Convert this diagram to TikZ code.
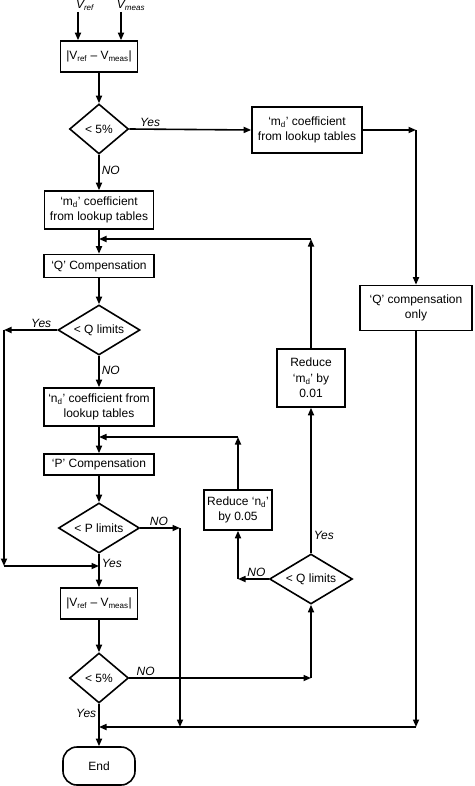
\documentclass[tikz,border=0pt]{standalone}
\usepackage{fontspec}
\setmainfont{Liberation Sans}
\usetikzlibrary{arrows.meta,shapes.geometric}

\begin{document}
\begin{tikzpicture}[
    x=1pt, y=-1pt,
    >={Triangle[length=7.5pt,width=6pt]},
    font=\fontsize{12}{15.5}\selectfont,
    box/.style={draw, line width=1.6pt, align=center, inner sep=0.5pt},
    dec/.style={draw, diamond, line width=1.6pt, aspect=1.6, inner sep=0pt},
    arr/.style={->, line width=1.6pt},
    lbl/.style={font=\fontsize{12}{14}\selectfont\itshape, inner sep=2pt}
]
    \useasboundingbox (0,0) rectangle (474,786);
    % inputs
    \node[lbl, anchor=base] (vref) at (85,9) {V\textsubscript{ref}};
    \node[lbl, anchor=base] (vmeas) at (131,9) {V\textsubscript{meas}};
    \coordinate (vr) at (78,12);
    \coordinate (vm) at (121,12);
    % main column
    \node[box, minimum width=77pt, minimum height=31pt] (b1) at (99,56.5) {|V\textsubscript{ref} – V\textsubscript{meas}|};
    \node[dec, minimum width=59pt, minimum height=50pt] (d1) at (99,129) {< 5\%};
    \node[box, minimum width=109pt, minimum height=38pt] (bm2) at (99,210) {`m\textsubscript{d}' coefficient\\from lookup tables};
    \node[box, minimum width=110pt, minimum height=23pt] (qc) at (99,266) {`Q' Compensation};
    \node[dec, minimum width=82pt, minimum height=50pt] (d2) at (99,330) {< Q limits};
    \node[box, minimum width=110pt, minimum height=38pt] (bn) at (99,407) {`n\textsubscript{d}' coefficient from\\lookup tables};
    \node[box, minimum width=110pt, minimum height=21pt] (pc) at (99,464.5) {`P' Compensation};
    \node[dec, minimum width=81pt, minimum height=50pt] (d3) at (99,528) {< P limits};
    \node[box, minimum width=77pt, minimum height=31pt] (b2) at (99,603.5) {|V\textsubscript{ref} – V\textsubscript{meas}|};
    \node[dec, minimum width=59pt, minimum height=50pt] (d5) at (99,678) {< 5\%};
    \node[draw, line width=1.6pt, rounded corners=14pt, minimum width=72pt, minimum height=38pt] (fin) at (99,766) {End};
    % right side
    \node[box, minimum width=110pt, minimum height=46pt] (bm1) at (307,130) {`m\textsubscript{d}' coefficient\\from lookup tables};
    \node[box, minimum width=112pt, minimum height=45pt] (qo) at (416,308) {`Q' compensation\\only};
    \node[box, minimum width=68pt, minimum height=58pt] (rm) at (311,378) {Reduce\\`m\textsubscript{d}' by\\0.01};
    \node[box, minimum width=68pt, minimum height=40pt] (rn) at (238,510) {Reduce `n\textsubscript{d}'\\by 0.05};
    \node[dec, minimum width=83pt, minimum height=50pt] (d4) at (311,579) {< Q limits};
    % junctions
    \coordinate (j1) at (99,239);
    \coordinate (j2) at (99,437);
    \coordinate (j3) at (99,566);
    \coordinate (j4) at (99,727);
    \coordinate (cl) at (4,0);
    \coordinate (cn) at (180,0);

    \draw[arr] (vr) -- (vr |- b1.north);
    \draw[arr] (vm) -- (vm |- b1.north);
    \draw[arr] (b1.south) -- (d1.north);
    \draw[arr] (d1.east) -- node[lbl, above, pos=0.17] {Yes} (bm1.west);
    \draw[arr] (bm1.east) -- (bm1.east -| qo.north);
    \draw[arr] (bm1.east -| qo.north) -- (qo.north);
    \draw[arr] (d1.south) -- node[lbl, right, pos=0.45] {NO} (bm2.north);
    \draw[arr] (bm2.south) -- (qc.north);
    \draw[arr] (rm.north) -- (rm.north |- j1);
    \draw[arr] (rm.north |- j1) -- (j1);
    \draw[arr] (qc.south) -- (d2.north);
    \draw[arr] (d2.west) -- node[lbl, above, pos=0.3] {Yes} (d2.west -| cl);
    \draw[arr] (d2.west -| cl) -- (cl |- j3);
    \draw[arr] (cl |- j3) -- (j3);
    \draw[arr] (d2.south) -- node[lbl, right, pos=0.45] {NO} (bn.north);
    \draw[arr] (bn.south) -- (pc.north);
    \draw[arr] (rn.north) -- (rn.north |- j2);
    \draw[arr] (rn.north |- j2) -- (j2);
    \draw[arr] (pc.south) -- (d3.north);
    \draw[arr] (d3.east) -- node[lbl, above, pos=0.47] {NO} (d3.east -| cn);
    \draw[arr] (d3.east -| cn) -- (cn |- j4);
    \draw[arr] (d3.south) -- node[lbl, right, pos=0.3] {Yes} (b2.north);
    \draw[arr] (b2.south) -- (d5.north);
    \draw[arr] (d5.east) -- node[lbl, above, pos=0.09] {NO} (d5.east -| d4.south);
    \draw[arr] (d5.east -| d4.south) -- (d4.south);
    \draw[arr] (d4.north) -- node[lbl, right, pos=0.12] {Yes} (rm.south);
    \draw[arr] (d4.west) -- node[lbl, above, pos=0.4] {NO} (d4.west -| rn.south);
    \draw[arr] (d4.west -| rn.south) -- (rn.south);
    \draw[arr] (qo.south) -- (qo.south |- j4);
    \draw[arr] (qo.south |- j4) -- (j4);
    \draw[arr] (d5.south) -- node[lbl, left, pos=0.23] {Yes} (fin.north);
\end{tikzpicture}
\end{document}
